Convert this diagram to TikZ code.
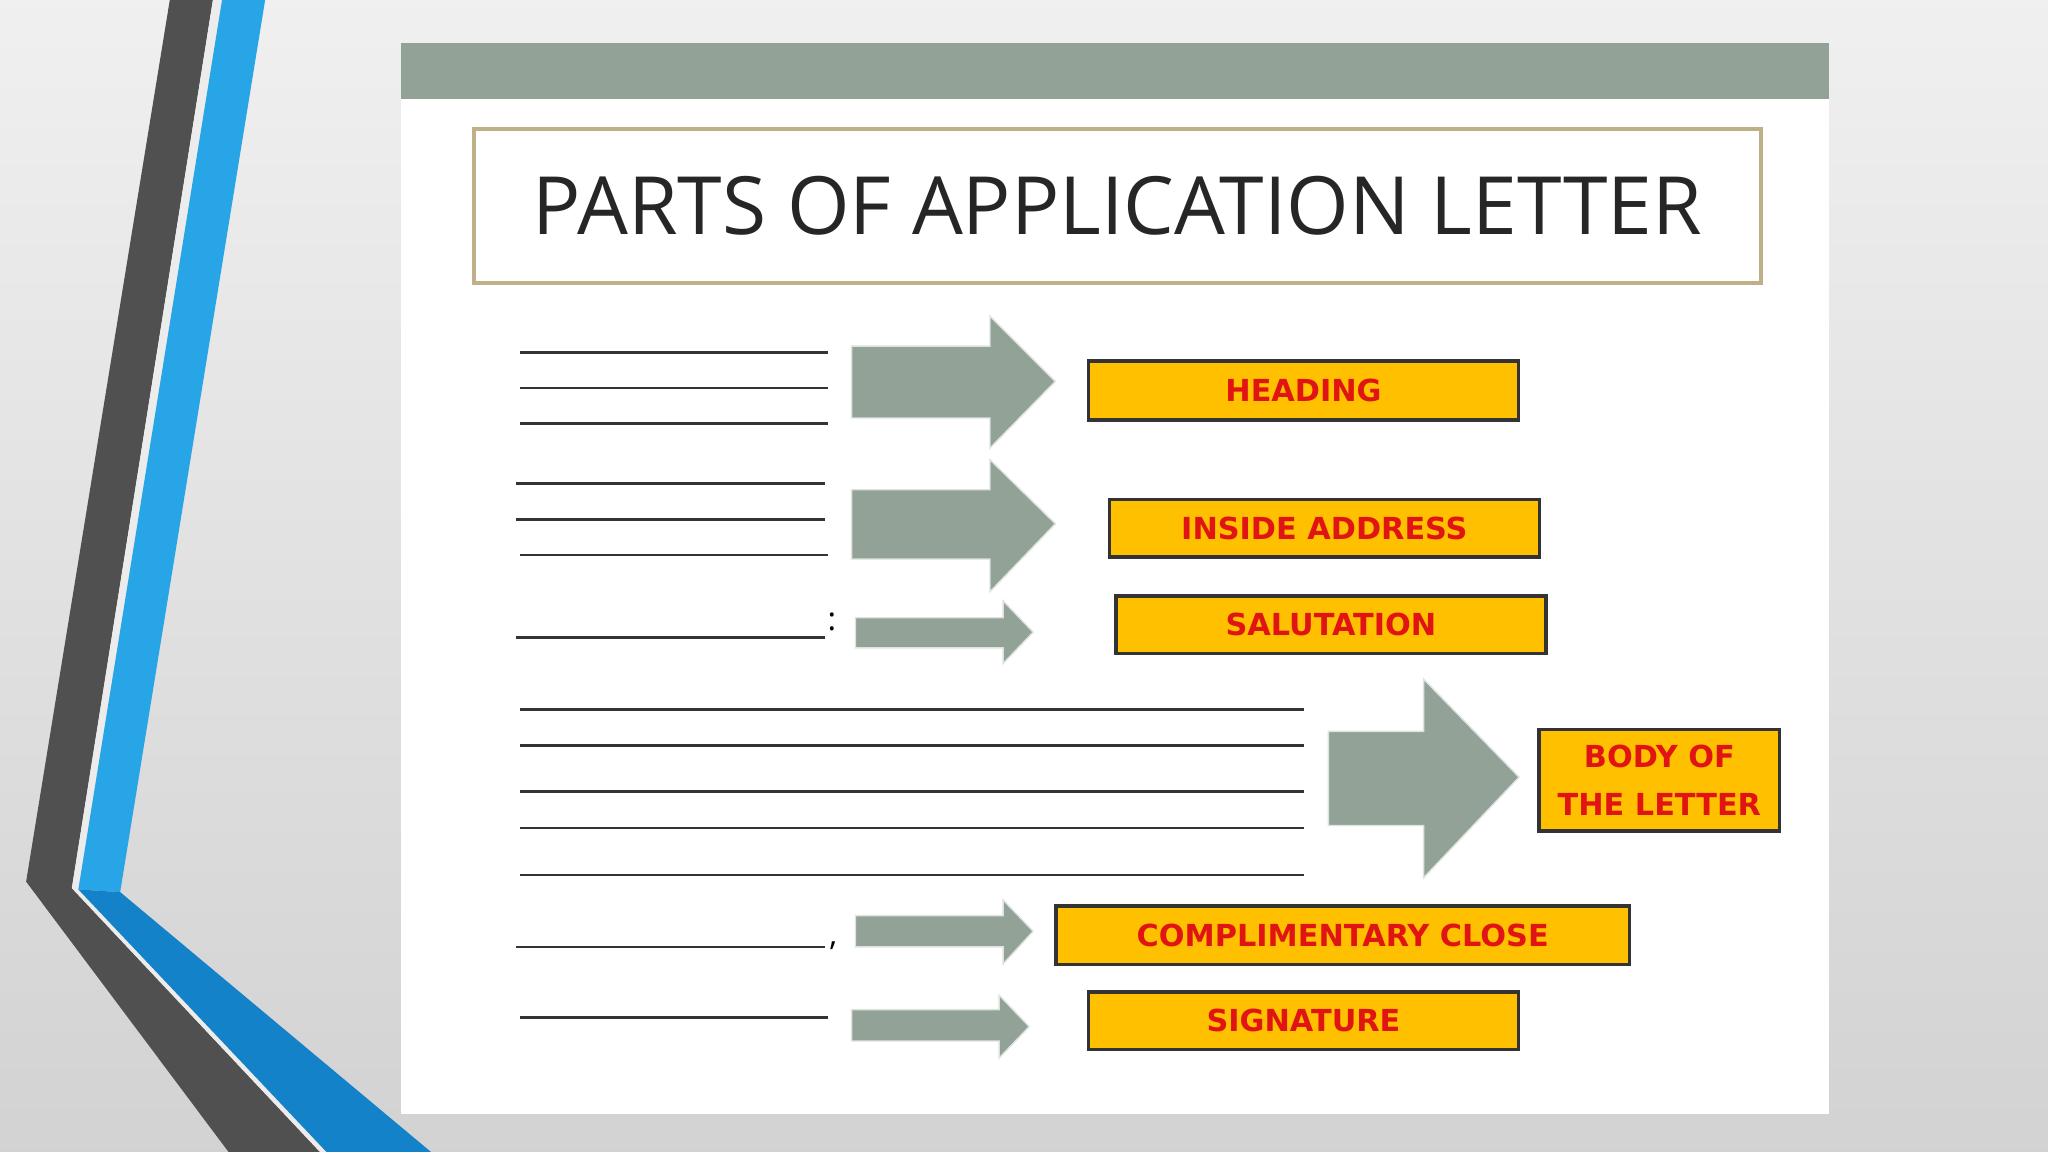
\documentclass[tikz,border=0pt]{standalone}
\usepackage{fontspec}
\setmainfont{Open Sans}
\newfontfamily\boxfont{DejaVu Sans}
\begin{document}
\begin{tikzpicture}[x=0.01cm,y=-0.01cm,
  rule/.style={line width=0.6pt,black!80},
  arr/.style={fill=arrowgray,draw=white!70!arrowgray,line width=0.3pt},
  lbl/.style={draw=black!80,line width=0.8pt,fill=boxyellow,text=boxred,font=\boxfont\bfseries\fontsize{6.6}{8.5}\selectfont,align=center,inner sep=0pt,anchor=north west}]
\definecolor{arrowgray}{RGB}{146,162,151}
\definecolor{boxyellow}{RGB}{255,192,0}
\definecolor{boxred}{RGB}{225,20,20}
\definecolor{darkband}{RGB}{80,80,80}
\definecolor{blueband}{RGB}{40,165,230}
\definecolor{blueband2}{RGB}{20,130,200}
\useasboundingbox (0,0) rectangle (1568,882);
\shade[top color=gray!12,bottom color=gray!35] (0,0) rectangle (1568,882);
% left bands
\fill[darkband] (130,0) -- (163,0) -- (55,680) -- (245,882) -- (175,882) -- (20,675) -- cycle;
\fill[white!85!gray] (163,0) -- (170,0) -- (60,681) -- (250,882) -- (245,882) -- (55,680) -- cycle;
\fill[blueband] (170,0) -- (203,0) -- (92,683) -- (60,681) -- cycle;
\fill[blueband2] (92,683) -- (330,882) -- (250,882) -- (60,681) -- cycle;
% slide
\fill[white] (307,33) rectangle (1400,853);
\fill[arrowgray] (307,33) rectangle (1400,76);
\node[draw={rgb,255:red,192;green,176;blue,136},line width=1pt,minimum width=9.85cm,minimum height=1.18cm,anchor=north west,
  font=\fontsize{17.5}{20}\selectfont,text=black!85] (title) at (361,97) {PARTS OF APPLICATION LETTER};
% lines
\foreach \y in {270,297,324} \draw[rule] (398,\y) -- (634,\y);
\draw[rule] (395,370) -- (632,370);
\draw[rule] (395,398) -- (632,398);
\draw[rule] (398,425) -- (634,425);
\draw[rule] (395,488) -- (632,488);
\node[font=\fontsize{7}{8}\selectfont] (colon) at (637,476) {:};
\foreach \y in {543,571,606,634,670} \draw[rule] (398,\y) -- (998,\y);
\draw[rule] (395,725) -- (632,725);
\node[font=\fontsize{7}{8}\selectfont] (comma) at (638,724) {,};
\draw[rule] (398,779) -- (634,779);
% arrows
\filldraw[arr] (652,265) -- (758,265) -- (758,242) -- (808,292) -- (758,343) -- (758,320) -- (652,320) -- cycle;
\filldraw[arr] (652,375) -- (758,375) -- (758,352) -- (808,401) -- (758,453) -- (758,428) -- (652,428) -- cycle;
\filldraw[arr] (655,473) -- (768,473) -- (768,460) -- (791,484) -- (768,508) -- (768,496) -- (655,496) -- cycle;
\filldraw[arr] (1017,560) -- (1090,560) -- (1090,520) -- (1163,595) -- (1090,672) -- (1090,632) -- (1017,632) -- cycle;
\filldraw[arr] (655,701) -- (768,701) -- (768,689) -- (791,713) -- (768,738) -- (768,725) -- (655,725) -- cycle;
\filldraw[arr] (652,773) -- (765,773) -- (765,762) -- (788,786) -- (765,810) -- (765,797) -- (652,797) -- cycle;
% labels
\node[lbl,minimum width=3.29cm,minimum height=0.45cm] (heading) at (832,275) {HEADING};
\node[lbl,minimum width=3.29cm,minimum height=0.44cm] (inside) at (848,381) {INSIDE ADDRESS};
\node[lbl,minimum width=3.29cm,minimum height=0.44cm] (salut) at (853,455) {SALUTATION};
\node[lbl,minimum width=1.84cm,minimum height=0.78cm] (body) at (1177,557) {BODY OF\\[2pt]THE LETTER};
\node[lbl,minimum width=4.39cm,minimum height=0.45cm] (compl) at (807,692) {COMPLIMENTARY CLOSE};
\node[lbl,minimum width=3.29cm,minimum height=0.44cm] (sign) at (832,758) {SIGNATURE};
\end{tikzpicture}
\end{document}
